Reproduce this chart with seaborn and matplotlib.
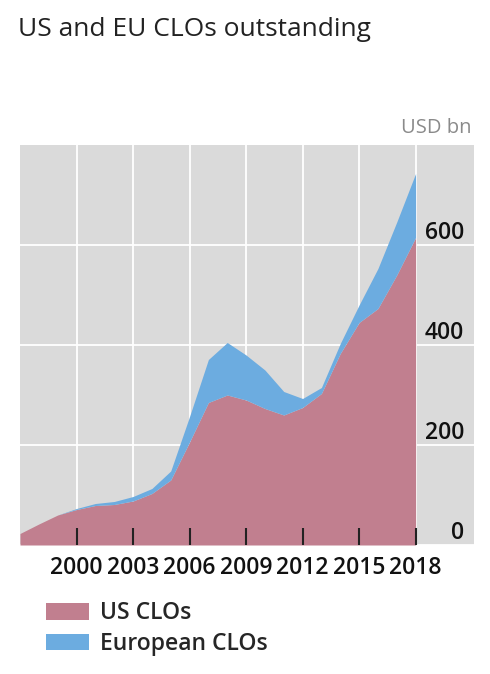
import numpy as np
import pandas as pd
import matplotlib
matplotlib.use("Agg")
import matplotlib.pyplot as plt
import seaborn as sns

# 数据 (USD bn)
years = list(range(1997, 2019))
us_clos = [23, 42, 60, 71, 79, 81, 88, 103, 130, 206, 285, 300, 290, 273,
           260, 275, 303, 383, 445, 473, 540, 615]
eu_clos = [0, 0, 0, 2, 4, 6, 9, 10, 18, 51, 86, 105, 90, 77,
           47, 18, 12, 20, 35, 80, 106, 128]
x_ticks = [2000, 2003, 2006, 2009, 2012, 2015, 2018]
y_ticks = [0, 200, 400, 600]
series_names = ["US CLOs", "European CLOs"]

df = pd.DataFrame({"year": years, "US CLOs": us_clos, "European CLOs": eu_clos})

sns.set_theme(style="darkgrid", rc={
    "axes.facecolor": "#dadada",
    "grid.color": "white",
    "grid.linewidth": 1.3,
})
plt.rcParams["font.family"] = ["Open Sans", "DejaVu Sans"]

colors = sns.color_palette(["#c17f8f", "#6cace0"])

fig = plt.figure(figsize=(4.9, 6.74), dpi=100)
ax = fig.add_axes([20 / 490, 129 / 674, 454 / 490, 400 / 674])

polys = ax.stackplot(df["year"], df["US CLOs"], df["European CLOs"],
                     colors=colors, labels=series_names, linewidth=0)

ax.set_xlim(1997, 2021.1)
ax.set_ylim(0, 800)
ax.set_xticks(x_ticks)
ax.set_yticks(y_ticks)
ax.set_xticklabels([str(y) for y in x_ticks])
ax.set_xlabel("")
ax.set_ylabel("")
for s in ax.spines.values():
    s.set_visible(False)

# 刻度线: 画在面积图上面 (x 用数据坐标, y 用坐标轴比例)
ax.vlines(x_ticks, 0, 0.042, transform=ax.get_xaxis_transform(),
          color="#222222", lw=1.5, zorder=3)

ax.tick_params(axis="x", bottom=False, length=0, pad=8, labelsize=16.5,
               labelcolor="#111111")
ax.tick_params(axis="y", left=False, right=False, length=0, labelleft=False,
               labelright=True, pad=-7, labelsize=16.5, labelcolor="#111111")
for lab in ax.get_yticklabels():
    lab.set_ha("right")
    lab.set_va("bottom")
for lab in ax.get_xticklabels() + ax.get_yticklabels():
    lab.set_fontweight("semibold")

fig.text(18 / 490, 1 - 30 / 674, "US and EU CLOs outstanding", fontsize=19,
         color="#222222", ha="left", va="center")
fig.text(471 / 490, 1 - 128 / 674, "USD bn", fontsize=14.5, color="#8a8a8a",
         ha="right", va="center")

fig.legend(handles=polys, labels=series_names, loc="upper left",
           bbox_to_anchor=(37 / 490, 1 - 592 / 674), frameon=False,
           handlelength=1.85, handleheight=0.75,
           handletextpad=0.5, labelspacing=0.3, borderaxespad=0,
           prop={"weight": "semibold", "size": 16.5})

fig.savefig("out.png", dpi=100)
